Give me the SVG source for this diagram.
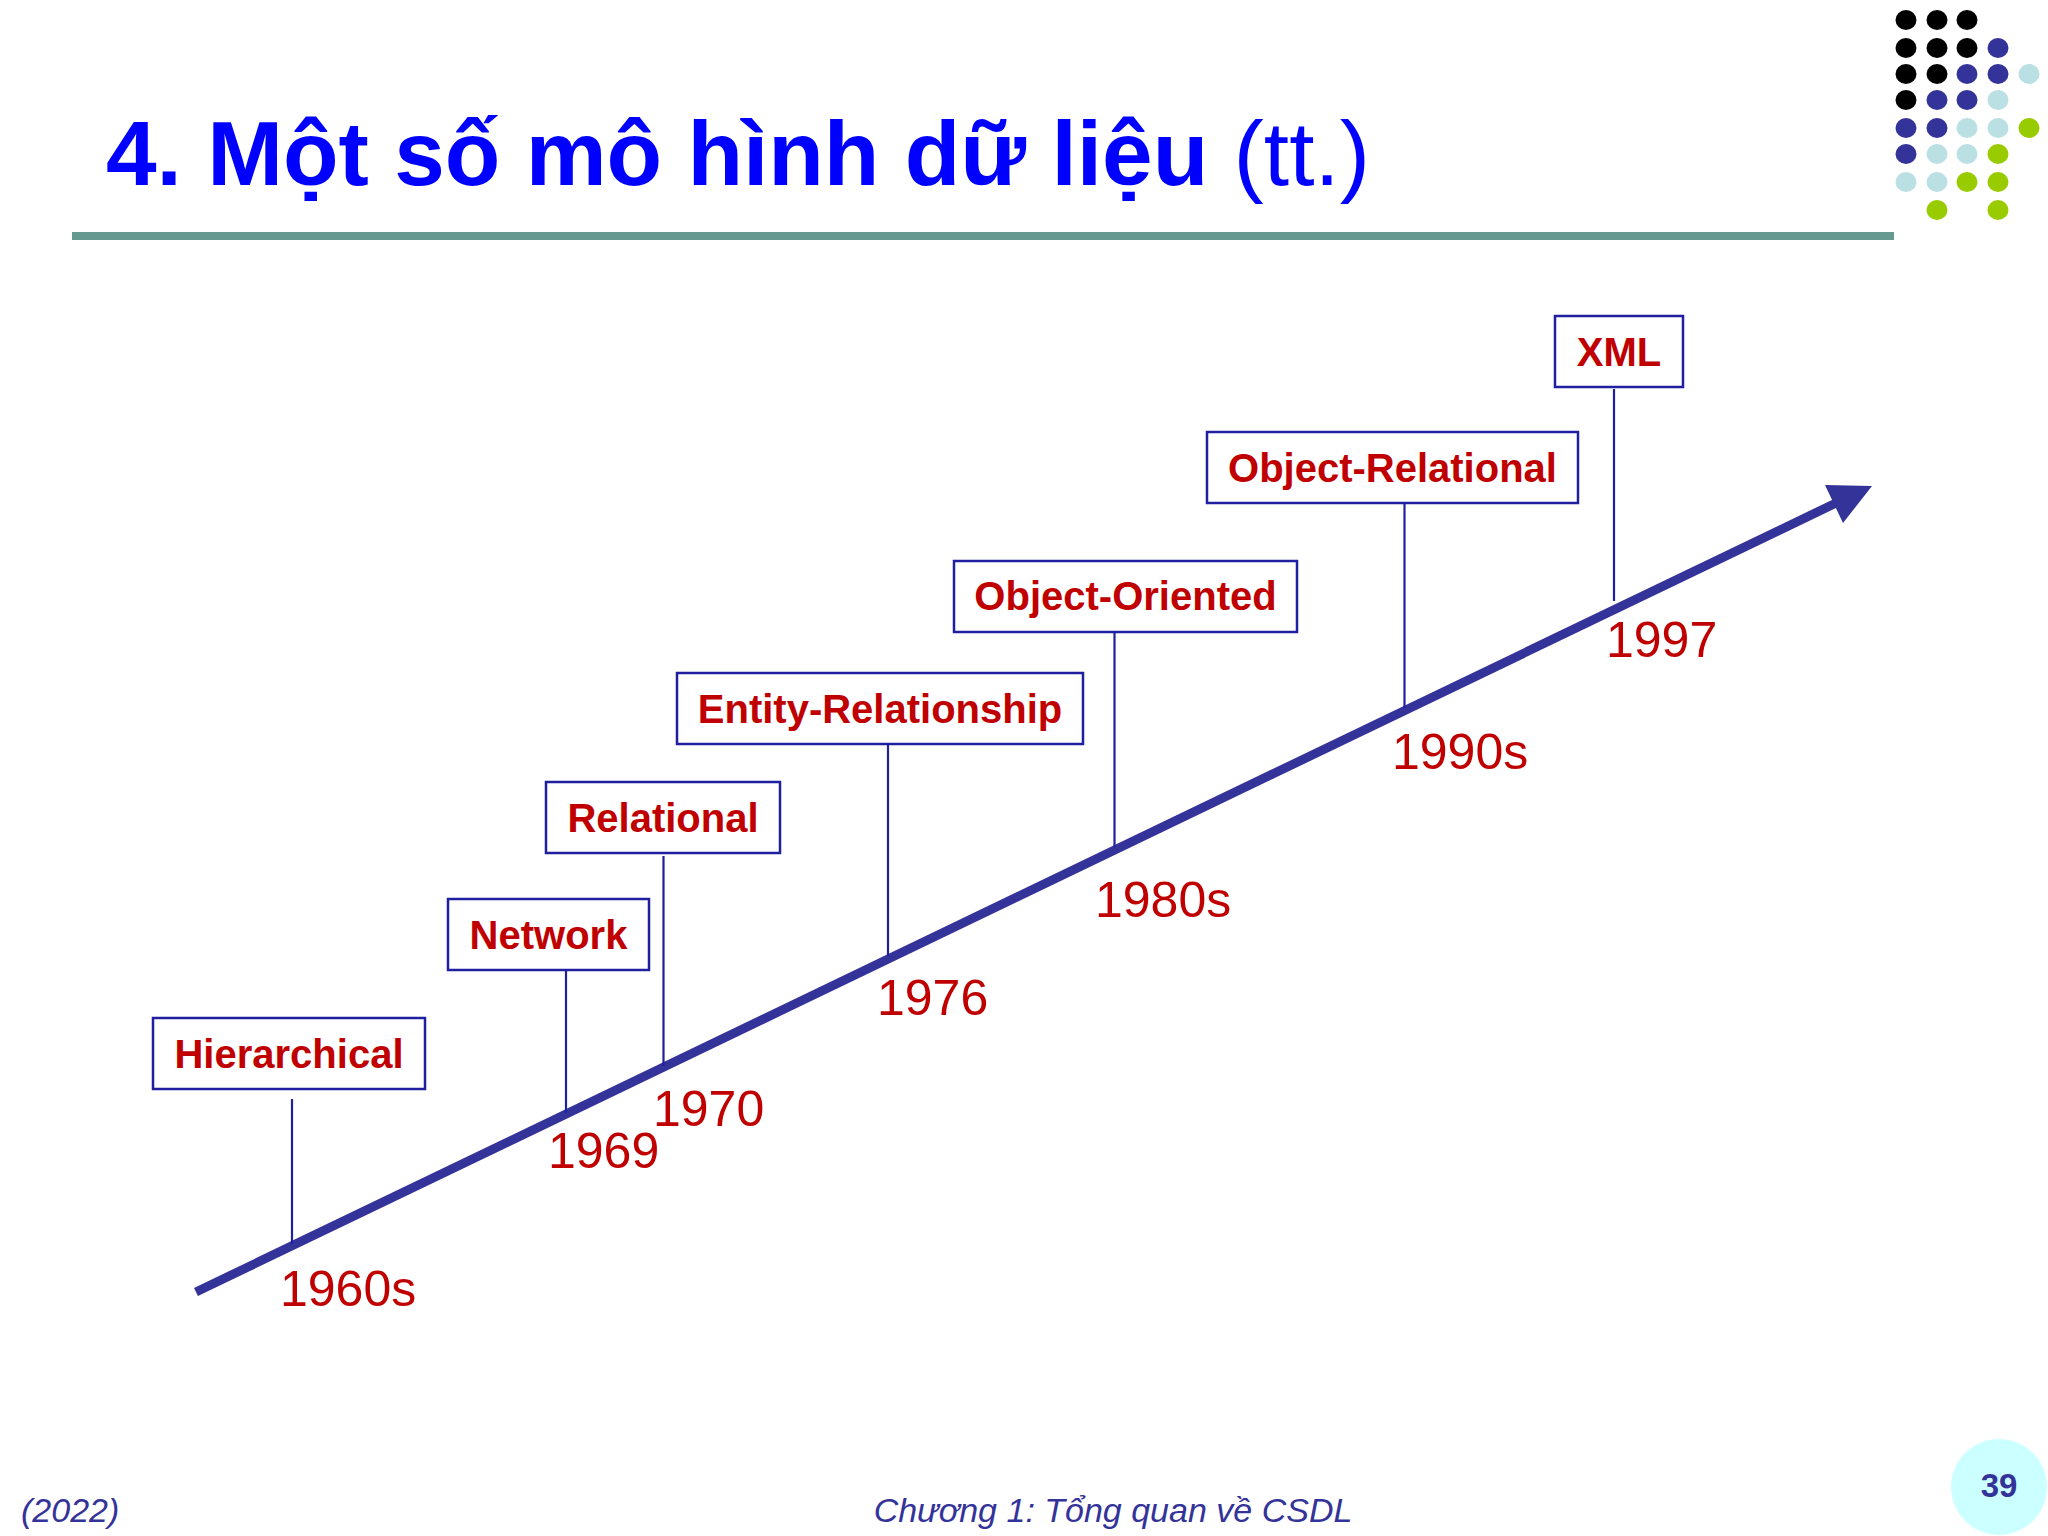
<svg xmlns="http://www.w3.org/2000/svg" width="2048" height="1536" viewBox="0 0 2048 1536">
<style>
.box{fill:#ffffff;stroke:#1f1fa0;stroke-width:2.5}
.lbl{font-family:"Liberation Sans",Arial,sans-serif;font-weight:bold;font-size:40px;fill:#c00000;text-anchor:middle}
.yr{font-family:"Liberation Sans",Arial,sans-serif;font-size:50px;fill:#c00000}
.tick{stroke:#1f1fa0;stroke-width:2.2;fill:none}
.k{fill:#000000}.b{fill:#333399}.c{fill:#bbe0e3}.g{fill:#99cc00}
.foot{font-family:"Liberation Sans",Arial,sans-serif;font-style:italic;font-size:34px;fill:#333399}
</style>
<rect width="2048" height="1536" fill="#ffffff"/>
<g id="dots">
<ellipse class="k" cx="1906" cy="20" rx="10.5" ry="10"/><ellipse class="k" cx="1937" cy="20" rx="10.5" ry="10"/><ellipse class="k" cx="1967" cy="20" rx="10.5" ry="10"/>
<ellipse class="k" cx="1906" cy="48" rx="10.5" ry="10"/><ellipse class="k" cx="1937" cy="48" rx="10.5" ry="10"/><ellipse class="k" cx="1967" cy="48" rx="10.5" ry="10"/><ellipse class="b" cx="1998" cy="48" rx="10.5" ry="10"/>
<ellipse class="k" cx="1906" cy="74" rx="10.5" ry="10"/><ellipse class="k" cx="1937" cy="74" rx="10.5" ry="10"/><ellipse class="b" cx="1967" cy="74" rx="10.5" ry="10"/><ellipse class="b" cx="1998" cy="74" rx="10.5" ry="10"/><ellipse class="c" cx="2029" cy="74" rx="10.5" ry="10"/>
<ellipse class="k" cx="1906" cy="100" rx="10.5" ry="10"/><ellipse class="b" cx="1937" cy="100" rx="10.5" ry="10"/><ellipse class="b" cx="1967" cy="100" rx="10.5" ry="10"/><ellipse class="c" cx="1998" cy="100" rx="10.5" ry="10"/>
<ellipse class="b" cx="1906" cy="128" rx="10.5" ry="10"/><ellipse class="b" cx="1937" cy="128" rx="10.5" ry="10"/><ellipse class="c" cx="1967" cy="128" rx="10.5" ry="10"/><ellipse class="c" cx="1998" cy="128" rx="10.5" ry="10"/><ellipse class="g" cx="2029" cy="128" rx="10.5" ry="10"/>
<ellipse class="b" cx="1906" cy="154" rx="10.5" ry="10"/><ellipse class="c" cx="1937" cy="154" rx="10.5" ry="10"/><ellipse class="c" cx="1967" cy="154" rx="10.5" ry="10"/><ellipse class="g" cx="1998" cy="154" rx="10.5" ry="10"/>
<ellipse class="c" cx="1906" cy="182" rx="10.5" ry="10"/><ellipse class="c" cx="1937" cy="182" rx="10.5" ry="10"/><ellipse class="g" cx="1967" cy="182" rx="10.5" ry="10"/><ellipse class="g" cx="1998" cy="182" rx="10.5" ry="10"/>
<ellipse class="g" cx="1937" cy="210" rx="10.5" ry="10"/><ellipse class="g" cx="1998" cy="210" rx="10.5" ry="10"/>
</g>
<g id="title">
<text x="106" y="185" font-family="'Liberation Sans',Arial,sans-serif" font-size="91" fill="#0000ff"><tspan font-weight="bold">4. Một số mô hình dữ liệu</tspan> (tt.)</text>
<rect x="72" y="232" width="1822" height="8" fill="#66998f"/>
</g>
<g id="connectors">
<line x1="196" y1="1292" x2="1836" y2="503" stroke="#333399" stroke-width="9"/>
<polygon points="1825,485 1872,486 1843,523" fill="#333399"/>
<line class="tick" x1="292" y1="1099" x2="292" y2="1244"/>
<line class="tick" x1="566" y1="970" x2="566" y2="1113"/>
<line class="tick" x1="663.5" y1="856" x2="663.5" y2="1066"/>
<line class="tick" x1="888" y1="744" x2="888" y2="956"/>
<line class="tick" x1="1114.5" y1="632" x2="1114.5" y2="847"/>
<line class="tick" x1="1404.5" y1="503" x2="1404.5" y2="708"/>
<line class="tick" x1="1614" y1="389" x2="1614" y2="601"/>
</g>
<g id="node-hierarchical"><rect class="box" x="153" y="1018" width="272" height="71"/><text class="lbl" x="289" y="1068">Hierarchical</text></g>
<g id="node-network"><rect class="box" x="448" y="899" width="201" height="71"/><text class="lbl" x="548.5" y="949">Network</text></g>
<g id="node-relational"><rect class="box" x="546" y="782" width="234" height="71"/><text class="lbl" x="663" y="832">Relational</text></g>
<g id="node-er"><rect class="box" x="677" y="673" width="406" height="71"/><text class="lbl" x="880" y="723">Entity-Relationship</text></g>
<g id="node-oo"><rect class="box" x="954" y="561" width="343" height="71"/><text class="lbl" x="1125.5" y="610">Object-Oriented</text></g>
<g id="node-or"><rect class="box" x="1207" y="432" width="371" height="71"/><text class="lbl" x="1392.5" y="482">Object-Relational</text></g>
<g id="node-xml"><rect class="box" x="1555" y="316" width="128" height="71"/><text class="lbl" x="1619" y="366">XML</text></g>
<g id="years">
<text class="yr" x="280" y="1306">1960s</text>
<text class="yr" x="548" y="1168">1969</text>
<text class="yr" x="653" y="1126">1970</text>
<text class="yr" x="877" y="1015">1976</text>
<text class="yr" x="1095" y="917">1980s</text>
<text class="yr" x="1392" y="769">1990s</text>
<text class="yr" x="1606" y="657">1997</text>
</g>
<g id="footer">
<text class="foot" x="21" y="1522">(2022)</text>
<text class="foot" x="1113" y="1522" text-anchor="middle">Chương 1: Tổng quan về CSDL</text>
<circle cx="1999" cy="1487" r="48" fill="#ccffff"/>
<text x="1999" y="1497" font-family="'Liberation Sans',Arial,sans-serif" font-weight="bold" font-size="33" fill="#333399" text-anchor="middle">39</text>
</g>
</svg>
